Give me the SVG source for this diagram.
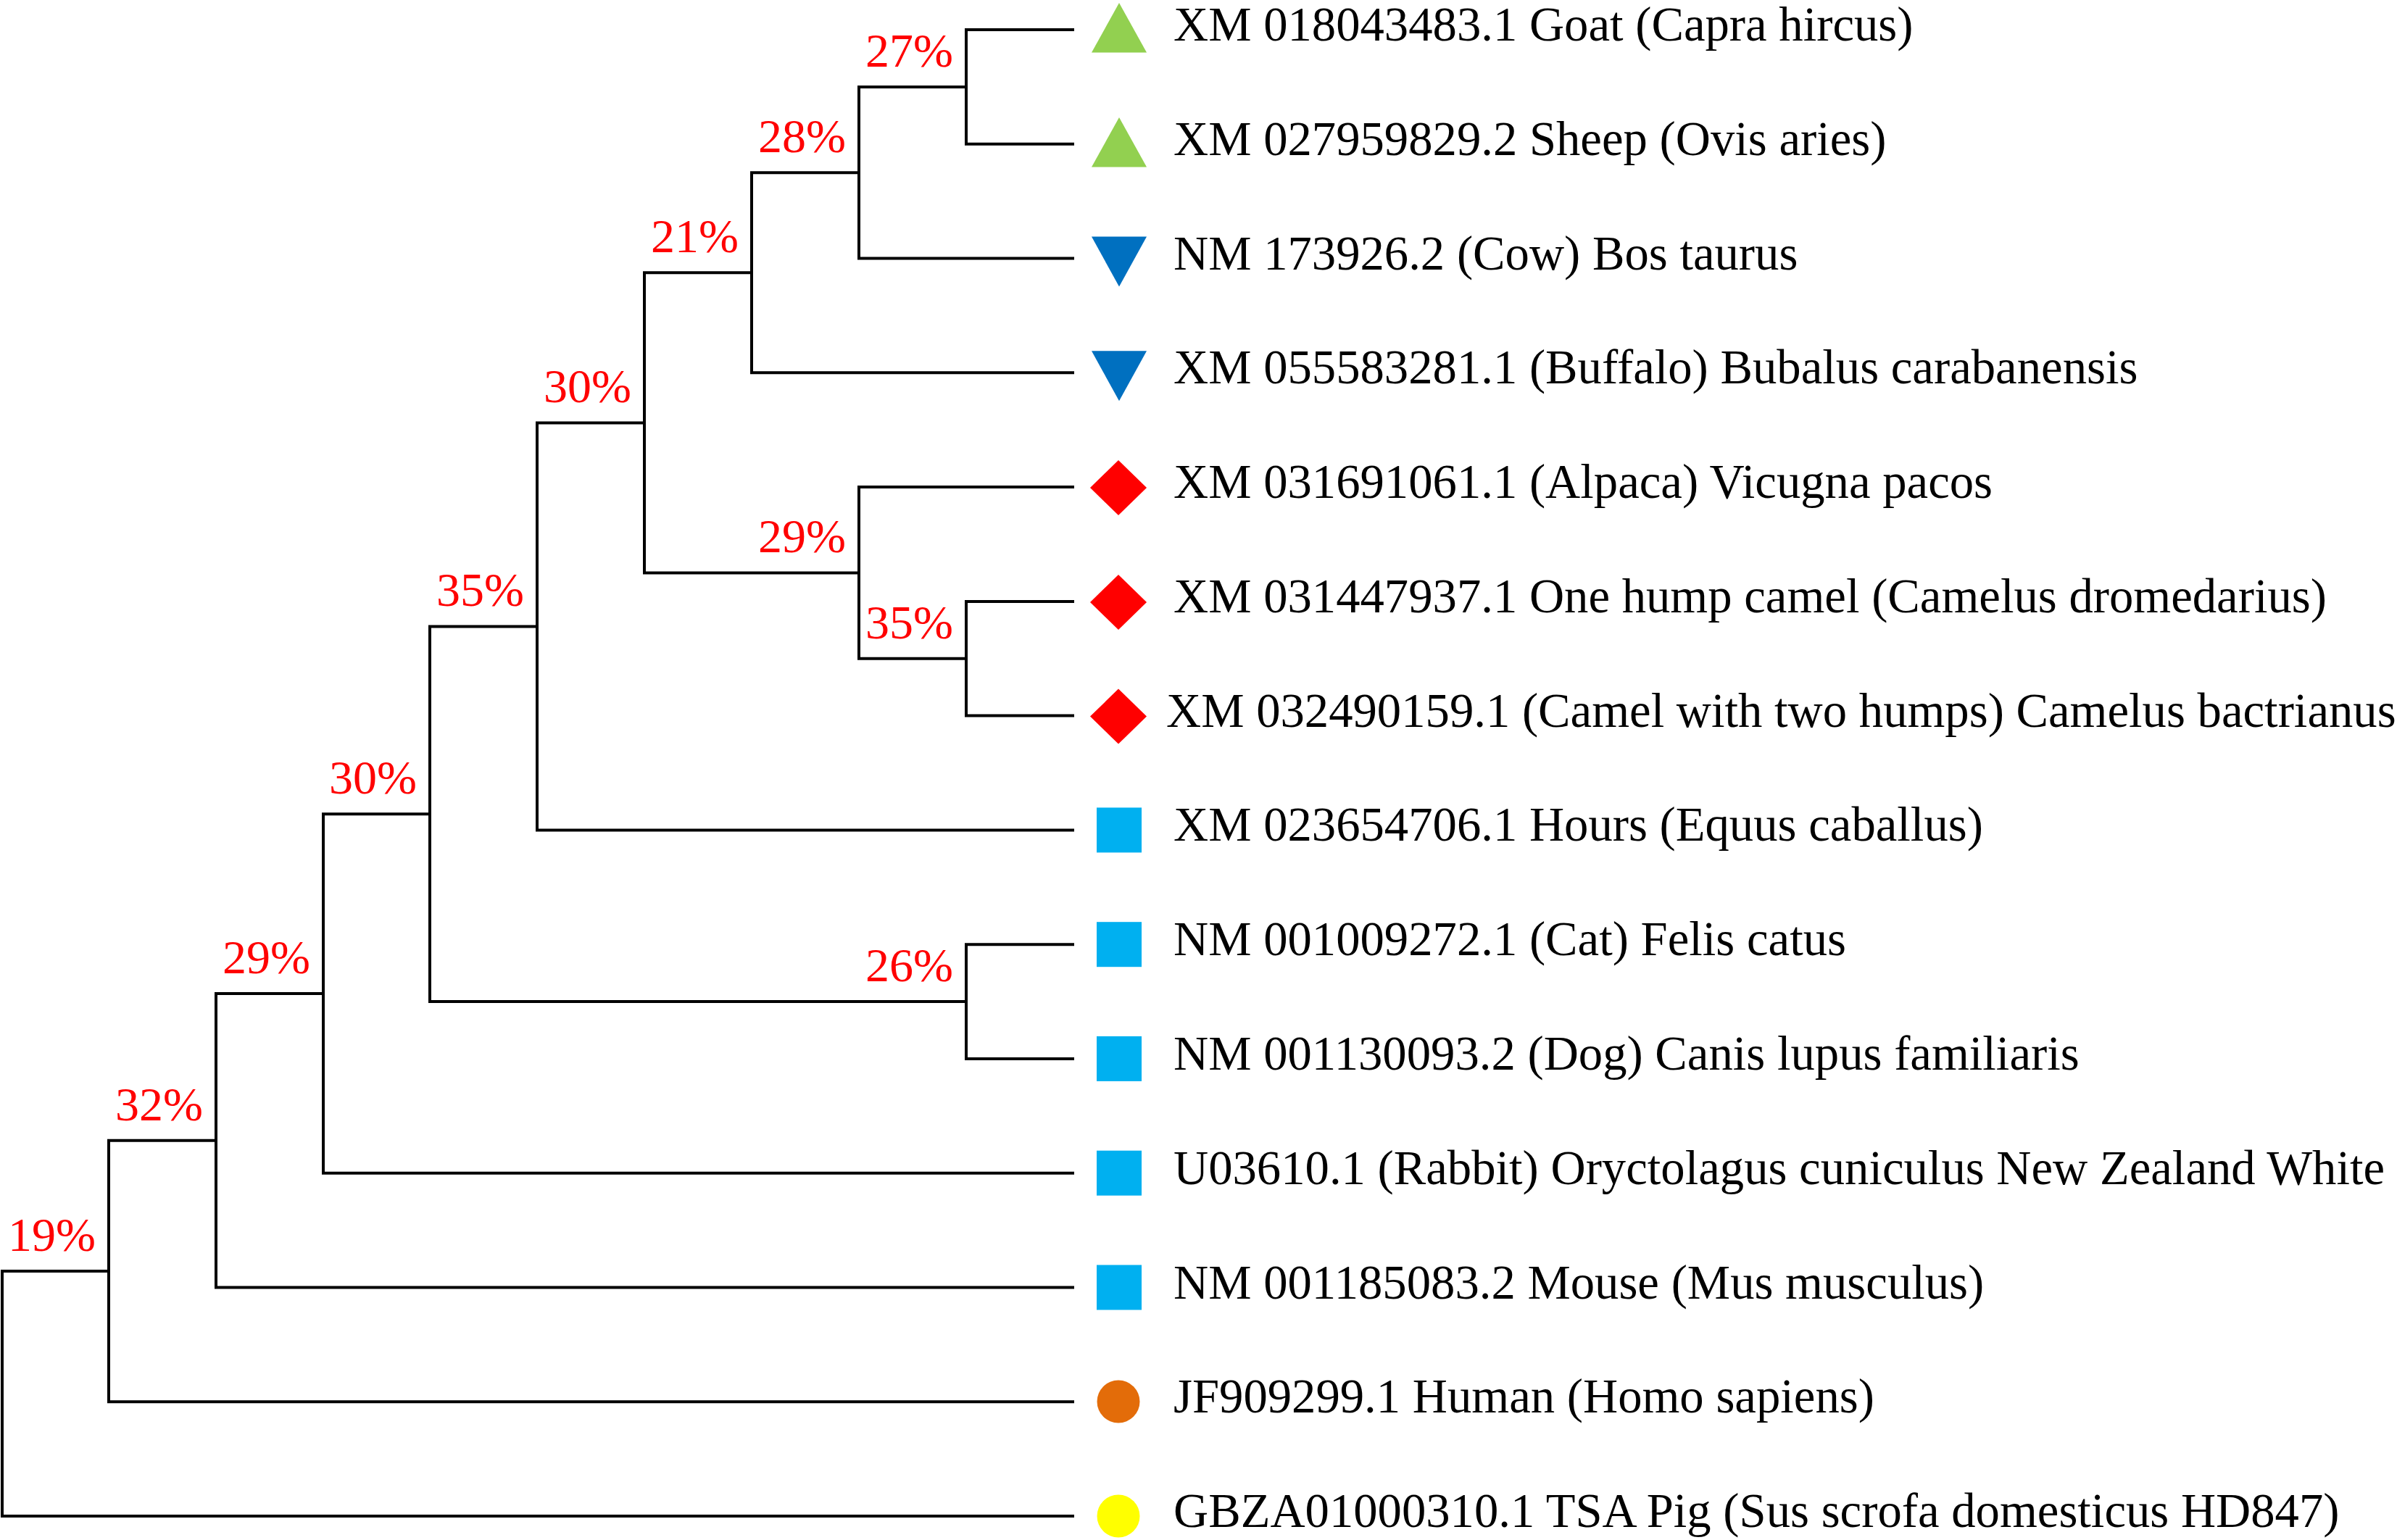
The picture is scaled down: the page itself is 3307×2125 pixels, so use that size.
<svg xmlns="http://www.w3.org/2000/svg" width="3307" height="2125" viewBox="0 0 3307 2125">
<style>
.br{fill:none;stroke:#000;stroke-width:4;stroke-linecap:square;stroke-linejoin:miter}
.lab{font-family:"Liberation Serif","Times New Roman",serif;font-size:66.7px;fill:#000}
.pct{font-family:"Liberation Serif","Times New Roman",serif;font-size:66px;fill:#FF0000;text-anchor:end}
.g{fill:#92D050}.b{fill:#0070C0}.r{fill:#FF0000}.c{fill:#00B0F0}.o{fill:#E36C09}.y{fill:#FFFF00}
</style>
<rect width="3307" height="2125" fill="#fff"/>
<g id="connectors">
<path class="br" d="M3 1923V1754H150"/>
<path class="br" d="M3 1923V2092H1480"/>
<path class="br" d="M150 1754V1573.7H298"/>
<path class="br" d="M150 1754V1934.2H1480"/>
<path class="br" d="M298 1573.7V1371H446"/>
<path class="br" d="M298 1573.7V1776.5H1480"/>
<path class="br" d="M446 1371V1123.2H593"/>
<path class="br" d="M446 1371V1618.7H1480"/>
<path class="br" d="M593 1123.2V864.4H741"/>
<path class="br" d="M593 1123.2V1382H1333"/>
<path class="br" d="M1333 1382V1303.2H1480"/>
<path class="br" d="M1333 1382V1460.9H1480"/>
<path class="br" d="M741 864.4V583.4H889"/>
<path class="br" d="M741 864.4V1145.4H1480"/>
<path class="br" d="M889 583.4V376.3H1037"/>
<path class="br" d="M889 583.4V790.4H1185"/>
<path class="br" d="M1037 376.3V238.2H1185"/>
<path class="br" d="M1037 376.3V514.3H1480"/>
<path class="br" d="M1185 238.2V119.9H1333"/>
<path class="br" d="M1185 238.2V356.5H1480"/>
<path class="br" d="M1333 119.9V41H1480"/>
<path class="br" d="M1333 119.9V198.8H1480"/>
<path class="br" d="M1185 790.4V672.1H1480"/>
<path class="br" d="M1185 790.4V908.8H1333"/>
<path class="br" d="M1333 908.8V829.9H1480"/>
<path class="br" d="M1333 908.8V987.6H1480"/>
</g>
<g id="node-A"><text class="pct" x="1315" y="92">27%</text></g>
<g id="node-B"><text class="pct" x="1167" y="210">28%</text></g>
<g id="node-C"><text class="pct" x="1019" y="348">21%</text></g>
<g id="node-D"><text class="pct" x="1315" y="881">35%</text></g>
<g id="node-E"><text class="pct" x="1167" y="762">29%</text></g>
<g id="node-F"><text class="pct" x="871" y="555">30%</text></g>
<g id="node-G"><text class="pct" x="723" y="836">35%</text></g>
<g id="node-H"><text class="pct" x="1315" y="1354">26%</text></g>
<g id="node-I"><text class="pct" x="575" y="1095">30%</text></g>
<g id="node-J"><text class="pct" x="428" y="1343">29%</text></g>
<g id="node-K"><text class="pct" x="280" y="1546">32%</text></g>
<g id="node-L"><text class="pct" x="132" y="1726">19%</text></g>

<g id="leaf-goat"><polygon class="g" points="1544,4 1582,72.5 1506,72.5"/><text class="lab" x="1619" y="56">XM 018043483.1 Goat (Capra hircus)</text></g>
<g id="leaf-sheep"><polygon class="g" points="1544,162 1582,230.5 1506,230.5"/><text class="lab" x="1619" y="214">XM 027959829.2 Sheep (Ovis aries)</text></g>
<g id="leaf-cow"><polygon class="b" points="1506,326.5 1582,326.5 1544,395.5"/><text class="lab" x="1619" y="371.5">NM 173926.2 (Cow) Bos taurus</text></g>
<g id="leaf-buffalo"><polygon class="b" points="1506,484.3 1582,484.3 1544,553.3"/><text class="lab" x="1619" y="529.3">XM 055583281.1 (Buffalo) Bubalus carabanensis</text></g>
<g id="leaf-alpaca"><polygon class="r" points="1543,635 1582,673 1543,711 1504,673"/><text class="lab" x="1619" y="687">XM 031691061.1 (Alpaca) Vicugna pacos</text></g>
<g id="leaf-camel1"><polygon class="r" points="1543,793 1582,831 1543,869 1504,831"/><text class="lab" x="1619" y="845">XM 031447937.1 One hump camel (Camelus dromedarius)</text></g>
<g id="leaf-camel2"><polygon class="r" points="1543,950.6 1582,988.6 1543,1026.6 1504,988.6"/><text class="lab" x="1609" y="1002.6">XM 032490159.1 (Camel with two humps) Camelus bactrianus</text></g>
<g id="leaf-horse"><rect class="c" x="1513" y="1114.4" width="62" height="62"/><text class="lab" x="1619" y="1160.4">XM 023654706.1 Hours (Equus caballus)</text></g>
<g id="leaf-cat"><rect class="c" x="1513" y="1272.2" width="62" height="62"/><text class="lab" x="1619" y="1318.2">NM 001009272.1 (Cat) Felis catus</text></g>
<g id="leaf-dog"><rect class="c" x="1513" y="1429.9" width="62" height="62"/><text class="lab" x="1619" y="1475.9">NM 001130093.2 (Dog) Canis lupus familiaris</text></g>
<g id="leaf-rabbit"><rect class="c" x="1513" y="1587.7" width="62" height="62"/><text class="lab" x="1619" y="1633.7">U03610.1 (Rabbit) Oryctolagus cuniculus New Zealand White</text></g>
<g id="leaf-mouse"><rect class="c" x="1513" y="1745.5" width="62" height="62"/><text class="lab" x="1619" y="1791.5">NM 001185083.2 Mouse (Mus musculus)</text></g>
<g id="leaf-human"><ellipse class="o" cx="1543" cy="1934" rx="29.5" ry="29.5"/><text class="lab" x="1619" y="1949">JF909299.1 Human (Homo sapiens)</text></g>
<g id="leaf-pig"><ellipse class="y" cx="1543" cy="2092" rx="29.5" ry="29.5"/><text class="lab" x="1619" y="2107">GBZA01000310.1 TSA Pig (Sus scrofa domesticus HD847)</text></g>
</svg>
